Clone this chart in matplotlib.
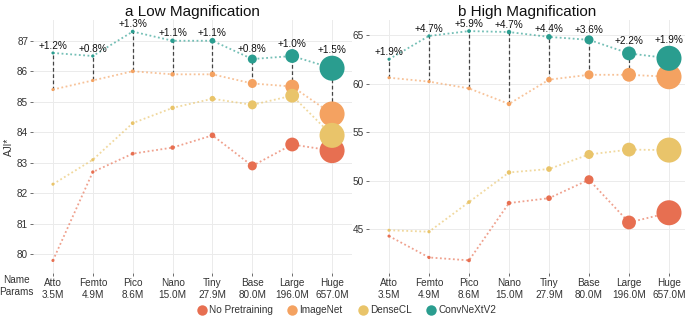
import numpy as np
import matplotlib
matplotlib.use("Agg")
import matplotlib.pyplot as plt
from matplotlib.lines import Line2D

plt.rcParams['font.family'] = ['Liberation Sans', 'DejaVu Sans']

names = ["Atto", "Femto", "Pico", "Nano", "Tiny", "Base", "Large", "Huge"]
params = [3.5, 4.9, 8.6, 15.0, 27.9, 80.0, 196.0, 657.0]
param_labels = ["3.5M", "4.9M", "8.6M", "15.0M", "27.9M", "80.0M", "196.0M", "657.0M"]

series_names = ["No Pretraining", "ImageNet", "DenseCL", "ConvNeXtV2"]
colors = ["#E76F51", "#F4A261", "#E9C46A", "#2A9D8F"]

low_nopre = [79.8, 82.7, 83.3, 83.5, 83.9, 82.9, 83.6, 83.4]
low_imagenet = [85.4, 85.7, 86.0, 85.9, 85.9, 85.6, 85.5, 84.6]
low_densecl = [82.3, 83.1, 84.3, 84.8, 85.1, 84.9, 85.2, 83.9]
low_convnext = [86.6, 86.5, 87.3, 87.0, 87.0, 86.4, 86.5, 86.1]
low_gain = ["+1.2%", "+0.8%", "+1.3%", "+1.1%", "+1.1%", "+0.8%", "+1.0%", "+1.5%"]

high_nopre = [44.3, 42.1, 41.8, 47.7, 48.2, 50.1, 45.7, 46.7]
high_imagenet = [60.6, 60.2, 59.5, 57.9, 60.4, 60.9, 60.9, 60.7]
high_densecl = [44.9, 44.75, 47.8, 50.85, 51.2, 52.7, 53.2, 53.15]
high_convnext = [62.5, 64.9, 65.4, 65.3, 64.8, 64.5, 63.1, 62.6]
high_gain = ["+1.9%", "+4.7%", "+5.9%", "+4.7%", "+4.4%", "+3.6%", "+2.2%", "+1.9%"]

W, H = 685, 316
fig = plt.figure(figsize=(W / 100, H / 100), dpi=100)

def px_axes(x0, x1, y0, y1):
    return fig.add_axes([x0 / W, 1 - y1 / H, (x1 - x0) / W, (y1 - y0) / H])

ax1 = px_axes(33, 352, 20, 273)
ax2 = px_axes(369, 685, 20, 273)

sizes = 0.49 * np.array(params) + 3.1
x = np.arange(len(names))
tick_col = "#333333"
grid_col = "#EBEBEB"

def draw(ax, data, gains, title, ylim, xlim, yticks):
    ax.set_xlim(*xlim)
    ax.set_ylim(*ylim)
    for sp in ax.spines.values():
        sp.set_visible(False)
    ax.set_xticks(x)
    ax.set_xticklabels([f"{n}\n{p}" for n, p in zip(names, param_labels)],
                       fontsize=7.2, color=tick_col, linespacing=1.3)
    ax.set_yticks(yticks)
    ax.set_yticklabels([str(t) for t in yticks], fontsize=7.2, color=tick_col)
    ax.tick_params(axis='both', length=2, width=0.6, color="#555555", pad=1.5)
    ax.grid(True, color=grid_col, linewidth=0.7)
    ax.set_axisbelow(True)
    # dashed connectors ConvNeXtV2 -> ImageNet
    ax.vlines(x, data[1], data[3], colors="#444444", linestyles=(0, (3, 2)),
              linewidth=0.9, zorder=2)
    for vals, c in zip(data, colors):
        ax.plot(x, vals, linestyle=(0, (1, 1.4)), color=c, alpha=0.65,
                linewidth=1.3, zorder=1)
    for vals, c in zip(data, colors):
        ax.scatter(x, vals, s=sizes, color=c, edgecolors='none', zorder=3)
    for xi, yi, s, g in zip(x, data[3], sizes, gains):
        ax.annotate(g, (xi, yi), xytext=(0, np.sqrt(s) / 2 + 3.8),
                    textcoords='offset points', ha='center', va='center',
                    fontsize=7.2, color="#111111", zorder=5)
    ax.set_title(title, fontsize=11, pad=3, color="#111111")

draw(ax1, [low_nopre, low_imagenet, low_densecl, low_convnext], low_gain,
     "a Low Magnification", (79.39, 87.68), (-0.5, 7.5), list(range(80, 88)))
draw(ax2, [high_nopre, high_imagenet, high_densecl, high_convnext], high_gain,
     "b High Magnification", (40.5, 66.54), (-0.5, 7.4), [45, 50, 55, 60, 65])

ax1.set_ylabel("AJI*", fontsize=7.2, color=tick_col, labelpad=2)
fig.text(16 / W, 1 - 286 / H, "Name\nParams", ha='center', va='center',
         fontsize=7.2, color=tick_col, linespacing=1.3)

handles = [Line2D([0], [0], marker='o', linestyle='none', markersize=7.5,
                  markerfacecolor=c, markeredgecolor='none') for c in colors]
fig.legend(handles, series_names, loc='center', bbox_to_anchor=(0.505, 1 - 310 / H),
           ncol=4, frameon=False, fontsize=7.2, handletextpad=0.1,
           columnspacing=1.4, handlelength=1.2, labelcolor=tick_col)

fig.savefig("out.png", dpi=100)
